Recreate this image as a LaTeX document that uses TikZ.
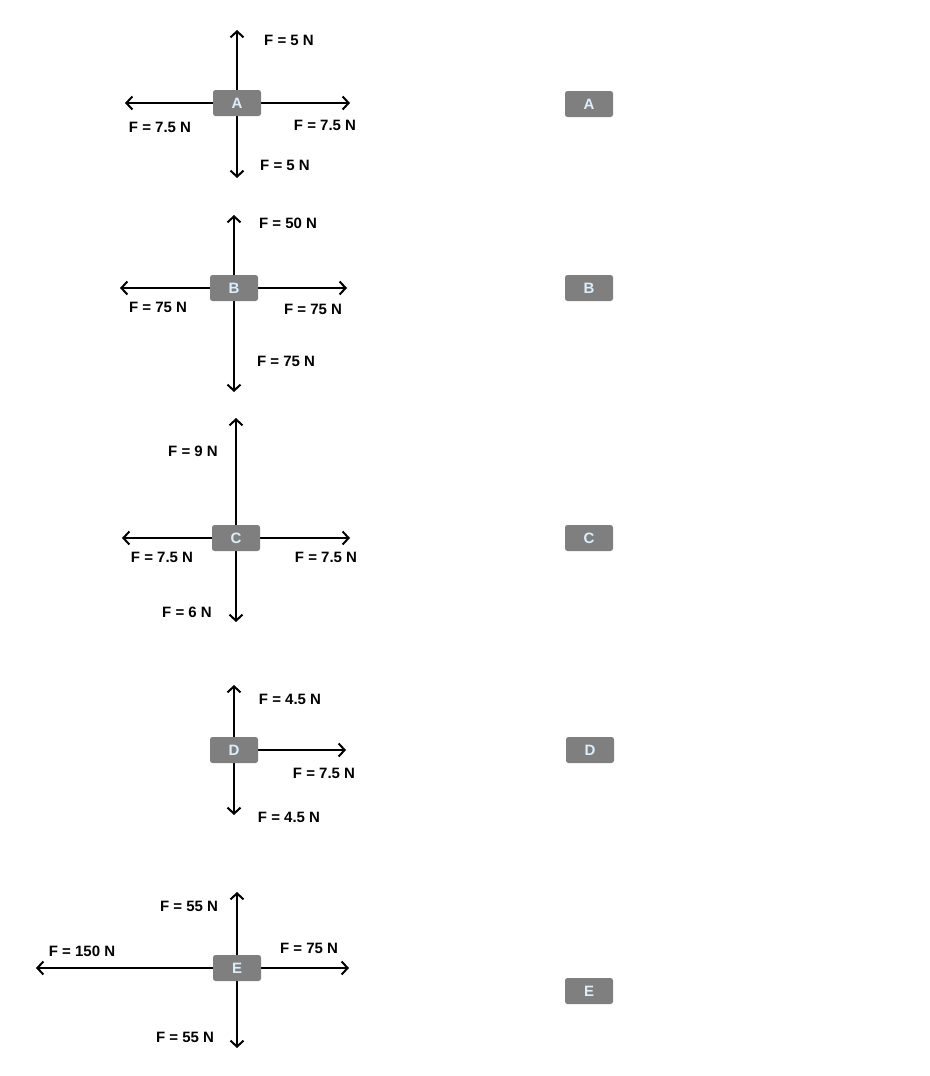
\documentclass[tikz,border=0pt]{standalone}
\usepackage{fontspec}
\setmainfont{Liberation Sans}
\usetikzlibrary{arrows.meta}
\definecolor{boxgray}{HTML}{7F7F7F}
\definecolor{lettercol}{HTML}{DCEEFB}
\tikzset{
  x=1pt,y=-1pt,
  blk/.style={fill=boxgray,rounded corners=2.5pt,minimum width=48pt,minimum height=26pt,inner sep=0pt,text=lettercol,font=\fontsize{15}{18}\selectfont\bfseries},
  force/.style={line width=2pt,-{Straight Barb[length=6pt,width=13pt,line width=2pt]}},
  lbl/.style={font=\fontsize{15}{18}\selectfont\bfseries,inner sep=0pt}
}
\begin{document}
\begin{tikzpicture}
\useasboundingbox (0,0) rectangle (929,1076);
% A
\coordinate (Au) at (237,30); \coordinate (Ad) at (237,178);
\coordinate (Al) at (125,103); \coordinate (Ar) at (350,103);
\draw[force] (237,103) -- (Au); \draw[force] (237,103) -- (Ad);
\draw[force] (237,103) -- (Al); \draw[force] (237,103) -- (Ar);
\node[blk] (A) at (237,103) {A};
\node[lbl] (a1) at (289,40) {F = 5 N};
\node[lbl] (a2) at (160,127) {F = 7.5 N};
\node[lbl] (a3) at (325,125) {F = 7.5 N};
\node[lbl] (a4) at (285,165) {F = 5 N};
\node[blk] (A2) at (589,104) {A};
% B
\coordinate (Bu) at (234,215); \coordinate (Bd) at (234,392);
\coordinate (Bl) at (120,288); \coordinate (Br) at (347,288);
\draw[force] (234,288) -- (Bu); \draw[force] (234,288) -- (Bd);
\draw[force] (234,288) -- (Bl); \draw[force] (234,288) -- (Br);
\node[blk] (B) at (234,288) {B};
\node[lbl] (b1) at (288,223) {F = 50 N};
\node[lbl] (b2) at (158,307) {F = 75 N};
\node[lbl] (b3) at (313,309) {F = 75 N};
\node[lbl] (b4) at (286,361) {F = 75 N};
\node[blk] (B2) at (589,288) {B};
% C
\coordinate (Cu) at (236,418); \coordinate (Cd) at (236,622);
\coordinate (Cl) at (122,538); \coordinate (Cr) at (350,538);
\draw[force] (236,538) -- (Cu); \draw[force] (236,538) -- (Cd);
\draw[force] (236,538) -- (Cl); \draw[force] (236,538) -- (Cr);
\node[blk] (C) at (236,538) {C};
\node[lbl] (c1) at (193,451) {F = 9 N};
\node[lbl] (c2) at (162,557) {F = 7.5 N};
\node[lbl] (c3) at (326,557) {F = 7.5 N};
\node[lbl] (c4) at (187,612) {F = 6 N};
\node[blk] (C2) at (589,538) {C};
% D
\coordinate (Du) at (234,685); \coordinate (Dd) at (234,815);
\coordinate (Dr) at (346,750);
\draw[force] (234,750) -- (Du); \draw[force] (234,750) -- (Dd);
\draw[force] (234,750) -- (Dr);
\node[blk] (D) at (234,750) {D};
\node[lbl] (d1) at (290,699) {F = 4.5 N};
\node[lbl] (d2) at (324,773) {F = 7.5 N};
\node[lbl] (d3) at (289,817) {F = 4.5 N};
\node[blk] (D2) at (590,750) {D};
% E
\coordinate (Eu) at (237,892); \coordinate (Ed) at (237,1048);
\coordinate (El) at (36,968); \coordinate (Er) at (349,968);
\draw[force] (237,968) -- (Eu); \draw[force] (237,968) -- (Ed);
\draw[force] (237,968) -- (El); \draw[force] (237,968) -- (Er);
\node[blk] (E) at (237,968) {E};
\node[lbl] (e1) at (189,906) {F = 55 N};
\node[lbl] (e2) at (82,951) {F = 150 N};
\node[lbl] (e3) at (309,948) {F = 75 N};
\node[lbl] (e4) at (185,1037) {F = 55 N};
\node[blk] (E2) at (589,991) {E};
\end{tikzpicture}
\end{document}
